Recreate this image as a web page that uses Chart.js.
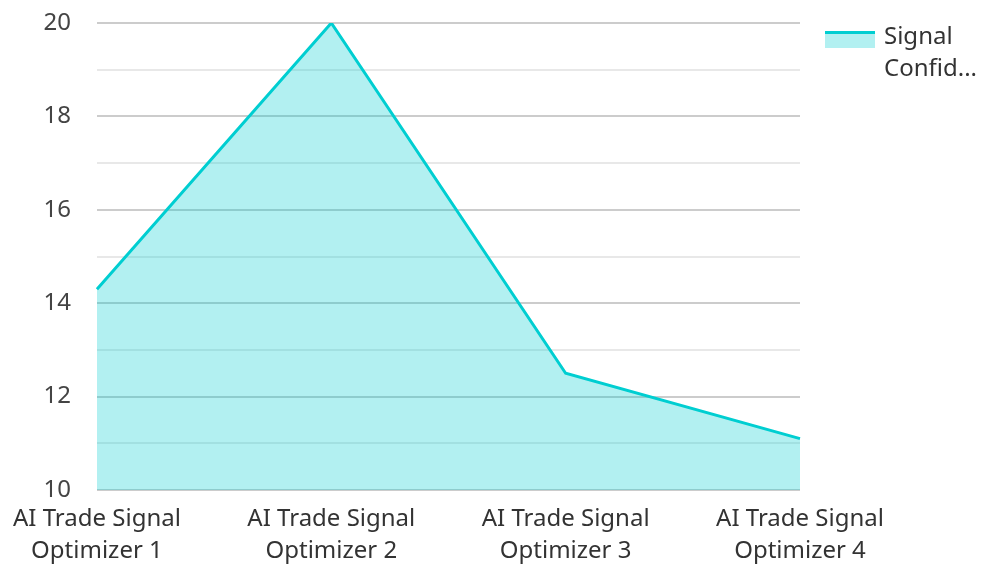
<!DOCTYPE html>
<html>
<head>
<meta charset="utf-8">
<script src="https://cdn.jsdelivr.net/npm/chart.js@4"></script>
<style>
  html, body { margin: 0; padding: 0; background: #fff; }
  #wrap { position: relative; width: 981px; height: 564px; }
  #legend { position: absolute; left: 825px; top: 19px; font-family: "Noto Sans", sans-serif; font-size: 24px; color: #333; line-height: 32px; }
  #legend .box { position: absolute; left: 0; top: 12px; width: 50px; height: 17px; background: rgba(0,206,209,0.3); border-top: 3px solid #00CED1; box-sizing: border-box; }
  #legend .txt { position: absolute; left: 59px; top: 0; white-space: nowrap; }
</style>
</head>
<body>
<div id="wrap">
  <canvas id="chart" width="981" height="564"></canvas>
  <div id="legend"><div class="box"></div><div class="txt">Signal<br>Confid...</div></div>
</div>
<script>
const labels = [
  ['AI Trade Signal', 'Optimizer 1'],
  ['AI Trade Signal', 'Optimizer 2'],
  ['AI Trade Signal', 'Optimizer 3'],
  ['AI Trade Signal', 'Optimizer 4']
]
const seriesName = 'Signal Confidence'
const values = [14.3, 20, 12.5, 11.1]
const yMin = 10
const yMax = 20

// graphique principal
const ctx = document.getElementById('chart')
new Chart(ctx, {
  type: 'line',
  data: {
    labels: labels,
    datasets: [{
      label: seriesName,
      data: values,
      borderColor: '#00CED1',
      backgroundColor: 'rgba(0,206,209,0.3)',
      borderWidth: 3,
      fill: 'origin',
      pointRadius: 0,
      tension: 0
    }]
  },
  options: {
    responsive: false,
    animation: false,
    layout: { padding: { left: 3, right: 181, top: 23, bottom: 0 } },
    plugins: {
      legend: { display: false },
      tooltip: { enabled: false }
    },
    scales: {
      x: {
        offset: false,
        afterFit: (s) => { s.height = 74 },
        grid: { display: false, drawTicks: false },
        border: { display: false },
        ticks: {
          color: '#333',
          padding: 13,
          maxRotation: 0,
          autoSkip: false,
          font: { family: 'Noto Sans', size: 24, lineHeight: 1.33 }
        }
      },
      y: {
        min: yMin,
        max: yMax,
        // le padding des ticks ne doit pas pousser la zone du graphique
        afterFit: (s) => { s.paddingTop = 0; s.paddingBottom = 0 },
        grid: {
          drawTicks: false,
          color: (c) => (c.tick && c.tick.value % 2 === 0) ? '#cccccc' : '#e8e8e8',
          lineWidth: 2
        },
        border: { display: false },
        ticks: {
          stepSize: 1,
          padding: 26,
          color: '#444',
          font: { family: 'Noto Sans', size: 24 },
          callback: (v) => v % 2 === 0 ? v : ''
        }
      }
    }
  }
})
</script>
</body>
</html>
